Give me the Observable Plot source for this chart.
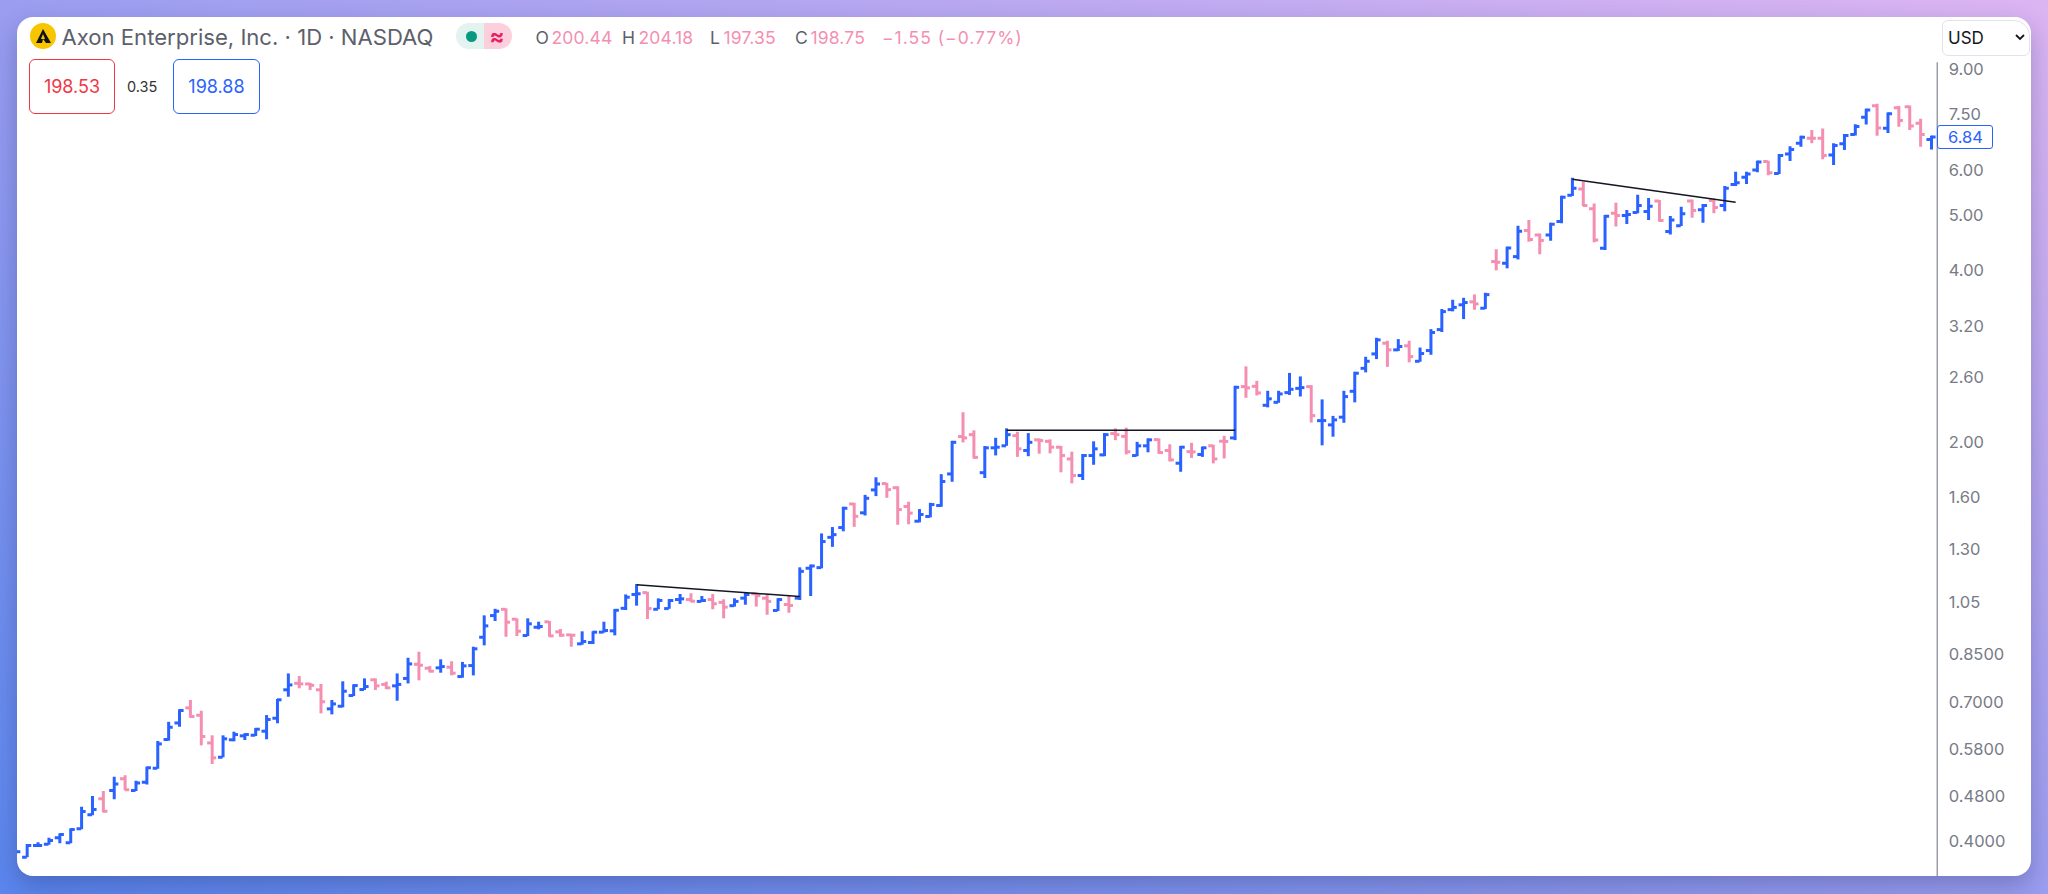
<!DOCTYPE html>
<html>
<head>
<meta charset="utf-8">
<script src="https://cdn.jsdelivr.net/npm/d3@7"></script>
<script src="https://cdn.jsdelivr.net/npm/@observablehq/plot@0.6"></script>
<style>
html,body{margin:0;padding:0;width:2048px;height:894px;overflow:hidden;background:linear-gradient(to top right,#5a86ee,#dcb5f2);font-family:Inter,"Noto Sans",sans-serif;}
#card{position:absolute;left:17px;top:17px;width:2013.5px;height:859px;background:#fff;border-radius:16px;overflow:hidden;box-shadow:0 10px 24px rgba(20,30,80,.28);}
#chart{position:absolute;left:-17px;top:-17px;width:2048px;height:894px;}
#chart svg{max-width:none;}
.ab{position:absolute;white-space:nowrap;box-sizing:border-box;}
</style>
</head>
<body>
<div id="card"><div id="chart"></div></div>
<div id="hud"></div>
<script>
const highs=[.3857,.3952,.3979,.4053,.4125,.4209,.4593,.4796,.4894,.5185,.5213,.5102,.5398,.5989,.6470,.6806,.7066,.6767,.6127,.6127,.6218,.6178,.6310,.6649,.7095,.7866,.7783,.7573,.7540,.7066,
.7620,.7525,.7711,.7711,.7608,.7866,.8380,.8587,.8103,.8327,.8262,.8240,.8761,.9943,1.021,1.023,.9825,.9825,.9692,.9719,.9410,.9222,.9323,.9323,.9692,1.020,1.082,1.128,1.094,1.065,
1.062,1.084,1.087,1.075,1.084,1.061,1.065,1.090,1.090,1.084,1.065,1.078,1.207,1.220,1.384,1.420,1.541,1.566,1.617,1.736,1.697,1.674,1.573,1.527,1.566,1.758,2.011,2.257,2.098,1.969,
2.036,2.115,2.086,2.075,2.031,2.023,1.970,1.925,1.907,2.007,2.075,2.115,2.121,2.003,2.031,2.031,1.983,1.970,1.995,1.964,1.980,2.052,2.511,2.716,2.562,2.461,2.461,2.645,2.608,2.518,
2.377,2.224,2.461,2.657,2.823,3.048,3.012,3.032,3.012,2.930,3.157,3.423,3.554,3.582,3.631,3.655,4.355,4.400,4.789,4.902,4.645,4.848,5.405,5.815,5.714,5.243,5.002,5.256,5.103,5.428,
5.356,5.313,4.983,5.172,5.328,5.228,5.350,5.623,5.956,5.956,6.226,6.226,6.397,6.604,6.888,7.048,7.095,6.680,6.935,7.219,7.681,7.835,7.565,7.77,7.785,7.38,6.89];
const lows=[.3816,.3745,.3904,.3941,.3963,.3963,.4194,.4436,.4491,.4733,.4914,.4894,.5026,.5355,.5996,.6343,.6578,.5884,.5456,.5607,.5982,.6013,.6110,.6030,.6432,.7160,.7407,.7357,.6694,.6668,
.6860,.7180,.7357,.7357,.7386,.7046,.7555,.7650,.7902,.7889,.7804,.7731,.7804,.8809,.9719,.9121,.9146,.9146,.9399,.9121,.9121,.8761,.8832,.8858,.9272,.9172,1.016,1.034,.9798,1.019,
1.021,1.041,1.050,1.050,1.019,.9825,1.030,1.038,1.030,.9967,1.012,1.005,1.058,1.075,1.202,1.311,1.396,1.421,1.488,1.609,1.598,1.433,1.436,1.447,1.477,1.541,1.705,1.998,1.873,1.731,
1.896,1.971,1.885,1.890,1.909,1.912,1.771,1.694,1.717,1.826,1.890,2.017,1.904,1.890,1.920,1.909,1.851,1.775,1.877,1.885,1.836,1.873,2.017,2.392,2.415,2.302,2.345,2.420,2.405,2.165,
1.975,2.045,2.163,2.349,2.651,2.797,2.711,2.889,2.760,2.767,2.846,3.120,3.391,3.287,3.413,3.422,4.001,4.034,4.182,4.490,4.268,4.508,4.837,5.399,5.186,4.480,4.342,4.775,4.823,5.036,
4.901,4.868,4.626,4.785,4.948,4.848,5.036,5.077,5.623,5.668,5.945,5.875,5.902,6.219,6.588,6.680,6.264,6.120,6.501,6.897,7.21,6.89,6.965,7.14,7.05,6.59,6.52];
const opens=[.3807,.3754,.3936,.3957,.4060,.3979,.4210,.4454,.4752,.4914,.5152,.4914,.5082,.5377,.6037,.6454,.6860,.6658,.5954,.5620,.6030,.6127,.6142,.6243,.6578,.7378,.7573,.7555,.7378,.6832,
.6904,.7209,.7386,.7681,.7540,.7497,.7724,.8177,.8049,.8062,.8082,.7783,.8136,.9121,.9954,1.021,.9810,.9184,.9497,.9707,.9323,.9210,.8882,.8929,.9310,.9361,1.025,1.084,1.092,1.021,
1.024,1.062,1.062,1.054,1.062,1.050,1.036,1.068,1.087,1.068,1.016,1.041,1.068,1.205,1.208,1.365,1.420,1.562,1.507,1.653,1.696,1.668,1.546,1.457,1.485,1.552,1.763,2.050,2.066,1.772,
1.959,1.975,2.058,1.938,2.023,2.011,1.964,1.873,1.752,1.899,1.904,2.075,2.052,1.899,1.975,2.025,1.938,1.841,1.929,1.907,1.975,2.012,2.039,2.508,2.511,2.326,2.354,2.448,2.490,2.508,
2.186,2.149,2.217,2.461,2.700,2.862,2.988,2.909,2.957,2.778,2.901,3.157,3.422,3.489,3.531,3.441,4.154,4.126,4.238,4.708,4.626,4.626,4.882,5.427,5.570,5.139,4.383,5.048,5.002,5.063,
5.083,5.307,4.689,4.798,5.307,5.118,5.313,5.207,5.667,5.836,6.014,6.219,5.925,6.415,6.695,6.833,6.833,6.386,6.680,6.935,7.436,7.794,7.115,7.725,7.76,7.26,6.80];
const closes=[.3837,.3936,.3936,.4016,.4113,.4197,.4515,.4552,.4520,.5046,.4928,.5066,.5385,.5931,.6343,.6786,.6623,.6110,.5607,.6054,.6159,.6159,.6293,.6544,.7086,.7525,.7555,.7512,.7030,.6969,
.7336,.7505,.7475,.7497,.7437,.7540,.8190,.8146,.7953,.8103,.7889,.8126,.8705,.9550,1.013,.9692,.9347,.9629,.9524,.9172,.9197,.9197,.8965,.9310,.9373,1.017,1.072,1.087,1.024,1.058,
1.058,1.065,1.055,1.058,1.044,1.030,1.054,1.084,1.079,1.054,1.062,1.037,1.190,1.216,1.342,1.380,1.535,1.486,1.598,1.693,1.655,1.527,1.505,1.497,1.558,1.710,2.003,2.039,1.885,1.959,
1.964,2.066,1.951,2.003,2.017,1.964,1.899,1.752,1.899,1.951,2.066,2.066,1.928,1.975,2.023,1.922,1.866,1.964,1.927,1.959,1.873,2.010,2.501,2.495,2.445,2.387,2.435,2.481,2.498,2.231,
2.187,2.193,2.409,2.647,2.778,3.029,2.909,2.949,2.831,2.866,3.120,3.395,3.453,3.521,3.502,3.635,4.142,4.390,4.695,4.540,4.521,4.829,5.384,5.583,5.207,4.534,4.988,5.002,5.022,5.207,
5.195,4.902,4.915,5.036,5.103,5.207,5.165,5.583,5.708,5.918,6.211,5.945,6.372,6.533,6.860,6.830,6.372,6.633,6.907,7.162,7.66,7.125,7.545,7.34,7.18,6.935,6.87];
if(![highs,lows,opens,closes].every(a=>a.length===177)) throw new Error("len "+[highs,lows,opens,closes].map(a=>a.length));

const tickValues=[9,7.5,6,5,4,3.2,2.6,2,1.6,1.3,1.05,.85,.7,.58,.48,.4];
const tickLabels=["9.00","7.50","6.00","5.00","4.00","3.20","2.60","2.00","1.60","1.30","1.05","0.8500","0.7000","0.5800","0.4800","0.4000"];

const trendStart=[57,91,143], trendEnd=[72,112,158];
const trendFrom=[1.127,2.103,5.790], trendTo=[1.075,2.103,5.277];

const UP="#2962ff", DOWN="#f48fb1";
const bars=opens.map((o,i)=>({i,open:o,high:highs[i],low:lows[i],close:closes[i],color:closes[i]<o?DOWN:UP}));
const trends=trendStart.map((s,k)=>({x1:s,x2:trendEnd[k],y1:trendFrom[k],y2:trendTo[k]}));
const axisX=176.53;

const chart=Plot.plot({
  width:2048,height:894,marginRight:111.3,marginLeft:0,marginTop:0,marginBottom:0,
  style:{background:"transparent",overflow:"visible"},
  x:{domain:[0,176],range:[15.8,1931],axis:null},
  y:{type:"log",domain:[0.4,9],range:[841,69.5],axis:null},
  marks:[
    Plot.ruleX(bars,{x:"i",y1:"low",y2:"high",stroke:"color",strokeWidth:3}),
    Plot.ruleY(bars,{y:"open",x1:d=>d.i-0.42,x2:d=>d.i,stroke:"color",strokeWidth:3}),
    Plot.ruleY(bars,{y:"close",x1:d=>d.i,x2:d=>d.i+0.42,stroke:"color",strokeWidth:3}),
    Plot.link(trends,{x1:"x1",y1:"y1",x2:"x2",y2:"y2",stroke:"#131722",strokeWidth:1.6}),
    Plot.ruleX([axisX],{y1:9.27,y2:0.347,stroke:"#9a9ea8",strokeWidth:1.5}),
    Plot.text(tickValues,{x:axisX,y:d=>d,text:(d,i)=>tickLabels[i],dx:11.5,textAnchor:"start",fontSize:16.5,fill:"#787b86",fontFamily:"Inter"})
  ]
});
document.getElementById("chart").appendChild(chart);

const titleText="Axon Enterprise, Inc. · 1D · NASDAQ";
const ohlcKeys=["O","H","L","C"], ohlcVals=["200.44","204.18","197.35","198.75"];
const ohlcKeyX=[535.5,622,710,795], ohlcValX=[551.5,638.5,723.5,810.5];
const changeText="−1.55 (−0.77%)";
const bidText="198.53", spreadText="0.35", askText="198.88", currency="USD", lastPrice="6.84";
let h="";
const T=(x,y,txt,st)=>`<div class="ab" style="left:${x}px;top:${y}px;transform:translateY(-50%);${st}">${txt}</div>`;
h+=`<svg class="ab" style="left:30px;top:23px" width="26" height="26" viewBox="0 0 26 26"><circle cx="13" cy="13" r="13" fill="#f7c600"/><path d="M13 6L6 20H12L13 16L16 20H21Z" fill="#111"/><path d="M13 11L11 16H15Z" fill="#f7c600"/></svg>`;
h+=T(61.5,37,titleText,"font-size:22.1px;color:#5d606b;");
h+=`<div class="ab" style="left:456px;top:23px;width:28px;height:26px;background:#e3f3ef;border-radius:13px 0 0 13px"></div>`;
h+=`<div class="ab" style="left:484px;top:23px;width:28px;height:26px;background:#fbcfdc;border-radius:0 13px 13px 0"></div>`;
h+=`<div class="ab" style="left:466px;top:30.5px;width:11px;height:11px;background:#089981;border-radius:50%"></div>`;
h+=T(489.5,36,"≈","font-size:22px;font-weight:700;color:#e91e63;");
ohlcKeys.forEach((k,i)=>{
  h+=T(ohlcKeyX[i],37,k,"font-size:17.5px;color:#5d606b;");
  h+=T(ohlcValX[i],37,ohlcVals[i],"font-size:17.5px;letter-spacing:.15px;color:#f48fb1;");
});
h+=T(882,37,changeText,"font-size:17.5px;letter-spacing:1px;color:#f48fb1;");
const box=(x,w,c,t)=>`<div class="ab" style="left:${x}px;top:59px;width:${w}px;height:54.5px;border:1.7px solid ${c};border-radius:6px;color:${c};font-size:18px;display:flex;align-items:center;justify-content:center">${t}</div>`;
h+=box(29,86,"#f23645",bidText);
h+=T(127,86,spreadText,"font-size:14.5px;color:#333;");
h+=box(173,87,"#2962ff",askText);
h+=`<div class="ab" style="left:1942px;top:19.5px;width:88px;height:36px;background:#fff;border:1.5px solid #e0e3eb;border-radius:6px 16px 6px 6px"></div>`;
h+=T(1948,37.5,currency,"font-size:17px;color:#131722;");
h+=`<svg class="ab" style="left:2014px;top:33px" width="12" height="8" viewBox="0 0 12 8"><path d="M2 2L6 6L10 2" fill="none" stroke="#131722" stroke-width="1.8"/></svg>`;
h+=`<div class="ab" style="left:1936.5px;top:125px;width:56.5px;height:24px;background:#fff;border:1.5px solid #2962ff;border-radius:3px"></div>`;
h+=T(1948,137.3,lastPrice,"font-size:16.5px;color:#2962ff;");
document.getElementById("hud").innerHTML=h;
</script>
</body>
</html>
